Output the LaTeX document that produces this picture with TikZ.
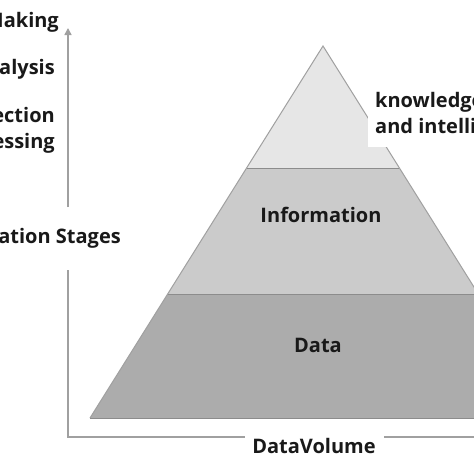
\documentclass[tikz,border=0pt]{standalone}
\usepackage{fontspec}
\setmainfont{Open Sans}
\usetikzlibrary{arrows.meta}
\definecolor{topband}{RGB}{230,230,230}
\definecolor{midband}{RGB}{203,203,203}
\definecolor{lowband}{RGB}{172,172,172}
\definecolor{edgegray}{RGB}{140,140,140}
\definecolor{axisgray}{RGB}{160,160,160}
\definecolor{inkdark}{RGB}{25,25,25}
\tikzset{
  lbl/.style={font=\bfseries\fontsize{20}{24}\selectfont, text=inkdark, inner sep=0pt},
  axisline/.style={draw=axisgray, line width=1.6pt},
  bandedge/.style={draw=edgegray, line width=1pt},
}
\begin{document}
\begin{tikzpicture}[x=1pt,y=-1pt]
\useasboundingbox (0,0) rectangle (474,474);
\clip (0,0) rectangle (474,474);
\fill[white] (0,0) rectangle (474,474);
% pyramid corners
\coordinate (apex) at (323,46);
\coordinate (bl) at (90,418);
\coordinate (br) at (556,418);
\coordinate (t1l) at (246.6,168);
\coordinate (t1r) at (399.4,168);
\coordinate (t2l) at (167.7,294);
\coordinate (t2r) at (478.3,294);
% bands
\fill[topband] (apex) -- (t1r) -- (t1l) -- cycle;
\fill[midband] (t1l) -- (t1r) -- (t2r) -- (t2l) -- cycle;
\fill[lowband] (t2l) -- (t2r) -- (br) -- (bl) -- cycle;
\draw[bandedge] (t1l) -- (t1r);
\draw[bandedge] (t2l) -- (t2r);
\draw[bandedge, draw=axisgray] (bl) -- (apex) -- (br);
\draw[bandedge] (bl) -- (br);
% white box behind knowledge label
\fill[white] (368,84) rectangle (480,147);
% axes
\coordinate (ybot) at (68,207);
\coordinate (ytop) at (68,28);
\coordinate (y2top) at (68,270);
\coordinate (corner) at (68,437);
\coordinate (xmid1) at (245,437);
\coordinate (xmid2) at (384,437);
\coordinate (xend) at (480,437);
\draw[axisline, -{Triangle[length=7pt,width=7pt]}] (ybot) -- (ytop);
\draw[axisline] (y2top) -- (corner) -- (xmid1);
\draw[axisline] (xmid2) -- (xend);
% labels
\node[lbl, anchor=base east] (making) at (59,27) {Making};
\node[lbl, anchor=base east] (analysis) at (55,74) {Analysis};
\node[lbl, anchor=base east] (collection) at (55,122) {Collection};
\node[lbl, anchor=base east] (processing) at (55,148) {Processing};
\node[lbl, anchor=base east] (stages) at (121,243) {Information Stages};
\node[lbl, anchor=base west] (know) at (375,107) {knowledge};
\node[lbl, anchor=base west] (intel) at (375,133) {and intelligence};
\node[lbl, anchor=base] (info) at (321,222) {Information};
\node[lbl, anchor=base] (data) at (318,352) {Data};
\node[lbl, anchor=base] (volume) at (314,453) {DataVolume};
\end{tikzpicture}
\end{document}
